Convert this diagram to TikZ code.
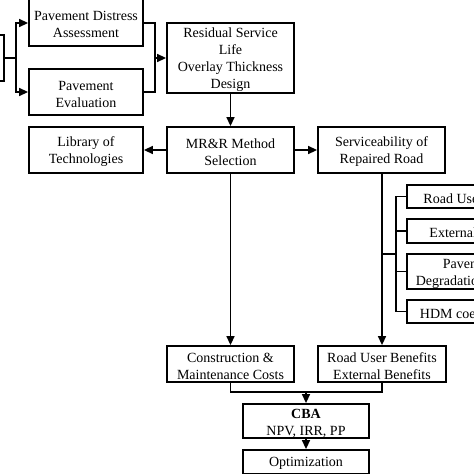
\documentclass[tikz,border=0pt]{standalone}
\usepackage{fontspec}
\setmainfont{Liberation Serif}
\usetikzlibrary{arrows.meta}
\tikzset{
  box/.style={draw, line width=1.8pt, inner sep=0pt},
  txt/.style={align=center, inner sep=0pt, font=\fontsize{14}{17}\selectfont},
  conn/.style={line width=1.4pt},
  arr/.style={conn, -{Triangle[length=9pt,width=8pt]}},
}
\newcommand{\bx}[6]{% name, x1, y1, x2, y2, text
  \node[box, minimum width={#4-#2}, minimum height={#5-#3}] (#1) at ({(#2+#4)/2},{(#3+#5)/2}) {};
  \node[txt] (#1t) at ([yshift=-2pt]#1.center) {#6};}
\begin{document}
\begin{tikzpicture}[x=1pt,y=-1pt]
\useasboundingbox (0,0) rectangle (474,474);
\clip (0,0) rectangle (474,474);
\bx{L0}{-120}{35}{4}{81}{}
\bx{PDA}{29}{-0.5}{143}{46}{Pavement Distress\\Assessment}
\bx{PE}{29}{69}{143}{115}{Pavement\\Evaluation}
\bx{RSL}{167}{23}{294}{93}{Residual Service\\Life\\Overlay Thickness\\Design}
\bx{LIB}{29}{127}{143}{173}{Library of\\Technologies}
\bx{MRR}{167}{127}{294}{173}{MR\&R Method\\Selection}
\bx{SRV}{318}{127}{445}{173}{Serviceability of\\Repaired Road}
\bx{RUC}{407}{185}{534}{208}{Road User Costs}
\bx{EXC}{407}{219}{534}{243}{External Costs}
\bx{PDM}{407}{254}{534}{289}{Pavement\\Degradation Model}
\bx{HDM}{407}{300}{534}{323}{HDM coefficients}
\bx{CMC}{167}{346}{294}{382}{Construction \&\\Maintenance Costs}
\bx{RUB}{318}{346}{446}{382}{Road User Benefits\\External Benefits}
\bx{CBA}{243}{404}{369}{438}{\textbf{CBA}\\NPV, IRR, PP}
\bx{OPT}{243}{450}{369}{473.5}{Optimization}
% left splitter
\coordinate (j0) at (16,58);
\draw[conn] (L0.east |- j0) -- (j0);
\draw[arr] (j0) |- (PDA.west |- 0,23);
\draw[arr] (j0) |- (PE.west);
% merge into RSL
\coordinate (j1) at (155,58);
\draw[conn] (PDA.east |- 0,23) -| (j1) |- (PE.east);
\draw[arr] (j1) -- (RSL.west |- j1);
\draw[arr] (RSL.south) -- (MRR.north);
\draw[arr] (MRR.west) -- (LIB.east);
\draw[arr] (MRR.east) -- (SRV.west);
\draw[arr] (SRV.south -| RUB.north) -- (RUB.north);
\draw[arr] (MRR.south) -- (CMC.north);
% right bracket
\coordinate (b0) at (396,254);
\draw[conn] (RUC.west) -| (b0) |- (HDM.west);
\draw[conn] (b0 |- EXC.west) -- (EXC.west);
\draw[conn] (b0 |- PDM.west) -- (PDM.west);
\draw[conn] (RUB.north |- b0) -- (b0);
% into CBA
\coordinate (m0) at (306,392);
\draw[conn] (CMC.south) |- (m0) -| (RUB.south);
\draw[arr] (m0) -- (CBA.north);
\draw[arr] (CBA.south) -- (OPT.north);
\end{tikzpicture}
\end{document}
